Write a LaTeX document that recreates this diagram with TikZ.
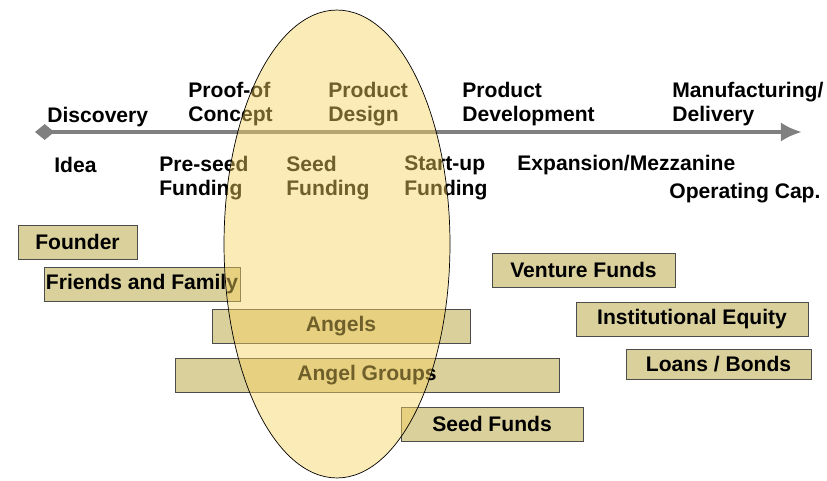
\documentclass[tikz,border=0pt]{standalone}
\usepackage{fontspec}
\setmainfont{Liberation Sans}
\usetikzlibrary{positioning,arrows.meta,shapes.geometric}
\definecolor{boxfill}{HTML}{DAD09C}
\definecolor{ovalfill}{HTML}{F7D35E}
\begin{document}
\begin{tikzpicture}[
    x=0.02cm, y=-0.02cm,
    % GLOBAL CFG
    font=\bfseries\fontsize{12}{14}\selectfont,
    % Styles
    stage/.style={% For the timeline labels
        anchor=west,
        align=left,
        inner sep=0pt,
        },
    fund/.style={% For the funding boxes
        rectangle,
        draw=black!70,
        fill=boxfill,
        inner sep=0pt,
        },
    axis/.style={% The timeline
        line width=2.5pt,
        draw=black!50,
        },
    ]
    \useasboundingbox (0,0) rectangle (827,480);

    % The timeline
    \coordinate (start) at (35,132);
    \coordinate (end) at (802,132);
    \draw [axis, {Diamond[length=11pt,width=9pt]}-{Latex[length=12pt,width=11pt]}] (start) -- (end);

    % Stages above
    \node[stage] (disc) at (47,117) {Discovery};
    \node[stage] (proof) at (188,104) {Proof-of\\Concept};
    \node[stage] (design) at (328,104) {Product\\Design};
    \node[stage] (devel) at (462,104) {Product\\Development};
    \node[stage] (manuf) at (672,104) {Manufacturing/\\Delivery};

    % Funding rounds below
    \node[stage] (idea) at (54,165) {Idea};
    \node[stage] (preseed) at (159,178) {Pre-seed\\Funding};
    \node[stage] (seed) at (286,178) {Seed\\Funding};
    \node[stage] (startup) at (404,178) {Start-up\\Funding};
    \node[stage] (expan) at (517,165) {Expansion/Mezzanine};
    \node[stage] (opcap) at (669,193) {Operating Cap.};

    % Sources of funding
    \draw[fund] (18,225) rectangle (137,259) node[midway] (founder) {Founder};
    \draw[fund] (44,267) rectangle (240,301) node[midway] (friends) {Friends and Family};
    \draw[fund] (212,309) rectangle (470,343) node[midway] (angels) {Angels};
    \draw[fund] (175,358) rectangle (559,392) node[midway] (groups) {Angel Groups};
    \draw[fund] (401,407) rectangle (583,441) node[midway] (seedf) {Seed Funds};
    \draw[fund] (492,253) rectangle (675,287) node[midway] (venture) {Venture Funds};
    \draw[fund] (576,302) rectangle (808,336) node[midway] (inst) {Institutional Equity};
    \draw[fund] (626,349) rectangle (811,379) node[midway] (loans) {Loans / Bonds};

    % The highlighted early stages
    \node[ellipse, draw=black, thin, fill=ovalfill, fill opacity=0.45,
        minimum width=4.52cm, minimum height=9.36cm] (focus) at (337,244) {};
\end{tikzpicture}
\end{document}
